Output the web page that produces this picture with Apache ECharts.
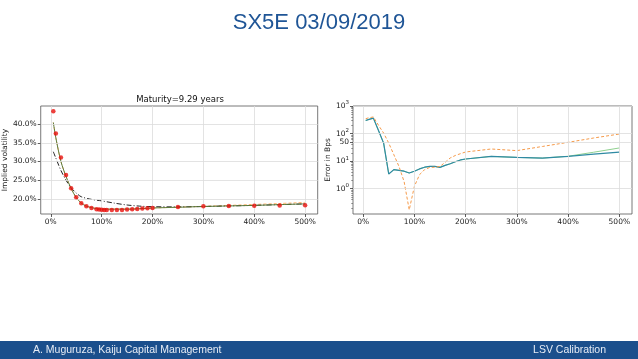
<!DOCTYPE html>
<html><head><meta charset="utf-8">
<script src="https://cdn.jsdelivr.net/npm/echarts@6/dist/echarts.min.js"></script>
<style>html,body{margin:0;padding:0;background:#fff}#c{width:638px;height:359px}</style>
</head><body><div id="c"></div>
<script>
// ---- data ----
const strikes = [5,10,20,30,40,50,60,70,80,90,95,100,105,110,120,130,140,150,160,170,180,190,200,250,300,350,400,450,500];
const marketVol = [43.4,37.5,31.1,26.4,22.9,20.5,18.9,18.1,17.6,17.3,17.2,17.15,17.1,17.1,17.05,17.05,17.1,17.2,17.25,17.35,17.45,17.55,17.6,17.9,18.05,18.15,18.2,18.3,18.35];
const modelStrikes = [5,10,20,30,40,50,60,70,80,100,150,200,250,300,350,400,450,500];
const lsvVol = [40.4,36.3,30.0,26.0,22.8,20.4,18.9,18.1,17.7,17.3,17.3,17.6,17.8,18.0,18.15,18.3,18.5,18.7];
const altVol = [40.4,36.3,30.0,26.0,22.8,20.4,18.9,18.1,17.7,17.3,17.3,17.6,17.8,18.05,18.3,18.55,18.8,19.1];
const initStrikes = [5,10,20,30,40,50,60,80,100,125,150,175,200,250,300,350,400,450,500];
const initVol = [32.6,30.9,27.6,25.0,23.0,21.6,20.6,19.9,19.5,18.9,18.4,18.1,17.95,17.9,18.0,18.15,18.3,18.5,18.7];

const errStrikes = [5,10,20,30,40,50,60,70,80,90,100,110,120,130,140,150,160,170,180,190,200,250,300,350,400,450,500];
const errBlue = [297,320,363,130,45,3.4,4.9,4.6,4.3,3.7,4.3,5.2,6.0,6.4,6.4,5.9,7.0,8.0,9.5,11,11.9,14.8,13.6,12.9,14.8,18,21.3];
const errGreen = [297,320,363,130,45,3.4,4.9,4.6,4.3,3.7,4.3,5.2,6.0,6.4,6.4,5.9,7.0,8.0,9.5,11,11.9,14.8,13.6,12.9,15.0,21,30];
const errOrange = [345,370,400,200,104,45,17,6.4,1.8,0.17,1.2,3.2,4.9,5.9,6.0,6.4,9,13,16,18.6,21.4,27.5,24,34,48,69,96];

const xTicks = [0,100,200,300,400,500];
const volTicks = [20,25,30,35,40];
const errTicks = [1,10,50,100,1000];
const errMinorTicks = [0.2,0.3,0.4,0.5,0.6,0.7,0.8,0.9,2,3,4,5,6,7,8,9,20,30,40,60,70,80,90,200,300,400,500,600,700,800,900];

// ---- chart ----
const chart = echarts.init(document.getElementById('c'), null, {renderer:'canvas'});
const lg = v => Math.log10(v);
const pair = (xs, ys, f) => xs.map((x,i)=>[x, f ? f(ys[i]) : ys[i]]);
const font = 'DejaVu Sans';
const lblStyle = {color:'#222', fontSize:7.5, fontFamily:font};

function xAxis(idx){
  return {type:'value', gridIndex:idx, min:-19.75, max:524.75,
    axisLine:{show:false, onZero:false},
    axisTick:{show:true, customValues:xTicks, length:3, lineStyle:{color:'#333', width:0.8}},
    axisLabel:Object.assign({customValues:xTicks, margin:4, formatter:v=>v+'%'}, lblStyle),
    splitLine:{show:false}};
}
const supRich = {b:{fontSize:7.5, fontFamily:font, color:'#222'}, s:{fontSize:5.5, fontFamily:font, color:'#222', padding:[0,0,6,0]}};

function gridLines(){ return {silent:true, symbol:'none', label:{show:false}, lineStyle:{color:'#dcdcdc', width:0.8, type:'solid'}}; }

const option = {
  animation:false,
  title:[
    {text:'SX5E 03/09/2019', left:'center', top:7, textStyle:{fontFamily:'Liberation Sans', fontSize:22, fontWeight:'normal', color:'#1f5596'}},
    {text:'Maturity=9.29 years', left:180, top:95, padding:0, textAlign:'center', textStyle:{fontFamily:font, fontSize:8.5, fontWeight:'normal', color:'#111'}}
  ],
  graphic:[
    {type:'rect', shape:{x:0,y:341,width:638,height:18}, style:{fill:'#1b4f8c'}},
    {type:'text', x:33, y:345, style:{text:'A. Muguruza, Kaiju Capital Management', fill:'#e6ecf5', font:'10.5px "Liberation Sans"'}},
    {type:'text', x:606, y:345, style:{text:'LSV Calibration', fill:'#e6ecf5', font:'10.5px "Liberation Sans"', textAlign:'right'}}
  ],
  grid:[
    {left:40.7, top:106, width:277, height:108, show:true, borderColor:'#555', borderWidth:0.8, backgroundColor:'transparent'},
    {left:353, top:106, width:279, height:108, show:true, borderColor:'#555', borderWidth:0.8, backgroundColor:'transparent'}
  ],
  xAxis:[xAxis(0), xAxis(1)],
  yAxis:[
    {type:'value', gridIndex:0, min:16, max:44.8,
      name:'Implied volatility', nameLocation:'middle', nameGap:28, nameTextStyle:{fontSize:7.5, fontFamily:font, color:'#222'},
      axisLine:{show:false, onZero:false},
      axisTick:{show:true, customValues:volTicks, length:3, lineStyle:{color:'#333', width:0.8}},
      axisLabel:Object.assign({customValues:volTicks, margin:4, formatter:v=>v.toFixed(1)+'%'}, lblStyle),
      splitLine:{show:false}},
    {type:'value', gridIndex:1, position:'left', min:-0.92, max:3.0,
      name:'Error in Bps', nameLocation:'middle', nameGap:20, nameTextStyle:{fontSize:7.5, fontFamily:font, color:'#222'},
      axisLine:{show:false, onZero:false},
      axisTick:{show:true, customValues:errTicks.map(lg), length:3, lineStyle:{color:'#333', width:0.8}},
      axisLabel:{customValues:errTicks.map(lg), margin:4, rich:supRich,
        formatter:v=>{ if (Math.abs(v-lg(50))<1e-6) return '{b|50}'; return '{b|10}{s|'+Math.round(v)+'}'; }},
      splitLine:{show:false}},
    {type:'value', gridIndex:1, position:'left', offset:0, min:-0.92, max:3.0,
      axisLine:{show:false, onZero:false},
      axisTick:{show:true, customValues:errMinorTicks.map(lg), length:1.8, lineStyle:{color:'#555', width:0.6}},
      axisLabel:{show:false}, splitLine:{show:false}}
  ],
  series:[
    {type:'line', xAxisIndex:0, yAxisIndex:0, data:[], symbol:'none',
      markLine:Object.assign(gridLines(), {data:xTicks.map(x=>({xAxis:x})).concat(volTicks.map(y=>({yAxis:y})))}), z:1},
    {type:'line', xAxisIndex:1, yAxisIndex:1, data:[], symbol:'none',
      markLine:Object.assign(gridLines(), {data:xTicks.map(x=>({xAxis:x})).concat(errTicks.map(y=>({yAxis:lg(y)})))}), z:1},
    {type:'line', xAxisIndex:0, yAxisIndex:0, data:pair(initStrikes, initVol), symbol:'none', smooth:0.3,
      lineStyle:{color:'#222', width:1, type:[5,2,1,2]}, z:3},
    {type:'line', xAxisIndex:0, yAxisIndex:0, data:pair(modelStrikes, altVol), symbol:'none', smooth:0.3,
      lineStyle:{color:'#ffb36b', width:1, type:[3,2]}, z:2},
    {type:'line', xAxisIndex:0, yAxisIndex:0, data:pair(modelStrikes, lsvVol), symbol:'none', smooth:0.3,
      lineStyle:{color:'#5b7a3c', width:1}, z:4},
    {type:'scatter', xAxisIndex:0, yAxisIndex:0, data:pair(strikes, marketVol), symbol:'circle', symbolSize:4.5,
      itemStyle:{color:'#e8100c'}, z:5},
    {type:'line', xAxisIndex:1, yAxisIndex:1, data:pair(errStrikes, errGreen, lg), symbol:'none',
      lineStyle:{color:'#8fd08f', width:1}, z:2},
    {type:'line', xAxisIndex:1, yAxisIndex:1, data:pair(errStrikes, errBlue, lg), symbol:'none',
      lineStyle:{color:'#2f8aa3', width:1.2}, z:3},
    {type:'line', xAxisIndex:1, yAxisIndex:1, data:pair(errStrikes, errOrange, lg), symbol:'none',
      lineStyle:{color:'#f59a4a', width:1, type:[3,2]}, z:4}
  ]
};
chart.setOption(option);
</script></body></html>
